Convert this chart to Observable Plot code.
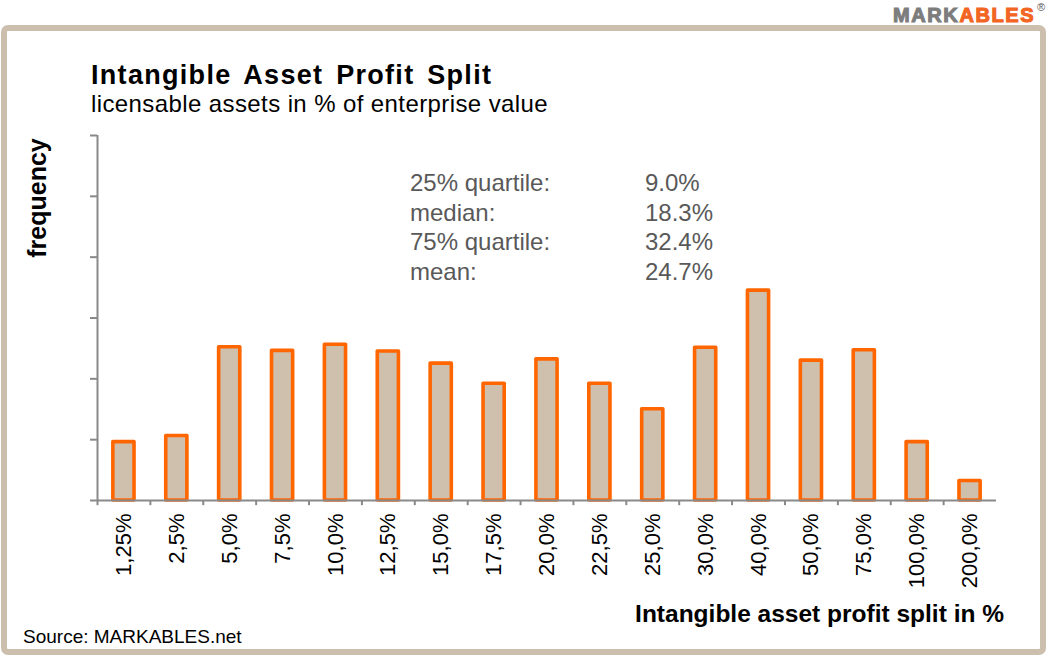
<!DOCTYPE html>
<html>
<head>
<meta charset="utf-8">
<script src="https://cdn.jsdelivr.net/npm/d3@7"></script>
<script src="https://cdn.jsdelivr.net/npm/@observablehq/plot@0.6"></script>
<style>
  html, body { margin: 0; padding: 0; background: #ffffff; }
  #wrap { position: relative; width: 1048px; height: 658px; overflow: hidden; background: #ffffff; font-family: "Liberation Sans", Arial, sans-serif; }
  #wrap > svg { position: absolute; left: 0; top: 0; }
</style>
</head>
<body>
<div id="wrap"></div>
<script>
// ---- data ----
const categories = ["1,25%","2,5%","5,0%","7,5%","10,0%","12,5%","15,0%","17,5%","20,0%","22,5%","25,0%","30,0%","40,0%","50,0%","75,0%","100,0%","200,0%"];
const frequency = [9.6, 10.6, 25.2, 24.6, 25.6, 24.5, 22.5, 19.2, 23.2, 19.2, 15.0, 25.1, 34.5, 23.0, 24.7, 9.6, 3.2];
const yTicks = [0, 10, 20, 30, 40, 50, 60];
const statLabels = ["25% quartile:", "median:", "75% quartile:", "mean:"];
const statValues = ["9.0%", "18.3%", "32.4%", "24.7%"];
const titleText = "Intangible Asset Profit Split";
const subtitleText = "licensable assets in % of enterprise value";
const yLabelText = "frequency";
const xLabelText = "Intangible asset profit split in %";
const sourceText = "Source: MARKABLES.net";

const data = categories.map((c, i) => ({cat: c, freq: frequency[i]}));

const W = 1048, H = 658;
const mL = 97, mR = 52, mT = 135, mB = 158;
const step = (W - mL - mR) / categories.length;
const axisGrey = "#898989";
const orange = "#ff6600";
const beige = "#cfbfad";
const font = "'Liberation Sans', Arial, sans-serif";

const chart = Plot.plot({
  width: W, height: H,
  marginLeft: mL, marginRight: mR, marginTop: mT, marginBottom: mB,
  style: {fontFamily: font, background: "transparent"},
  x: {domain: categories, paddingInner: 0.6, paddingOuter: 0.3, round: false, axis: null},
  y: {domain: [0, 60], axis: null},
  marks: [
    Plot.barY(data, {x: "cat", y: "freq", fill: beige, stroke: orange, strokeWidth: 3.6, strokeLinejoin: "round"}),
    Plot.axisY(yTicks, {tickSize: 7, tickFormat: () => "", stroke: axisGrey, strokeWidth: 2, label: null}),
    Plot.ruleX([categories[0]], {x: d => d, y1: 0, y2: 60, dx: -step / 2, stroke: axisGrey, strokeWidth: 2}),
    Plot.ruleY([0], {stroke: axisGrey, strokeWidth: 2}),
    Plot.ruleX(categories, {x: d => d, y1: 0, y2: -0.85, dx: -step / 2, stroke: axisGrey, strokeWidth: 2}),
    Plot.text(categories, {x: d => d, y: 0, dy: 13, rotate: -90, textAnchor: "end", fontSize: 22, fill: "#000", fontFamily: font})
  ]
});
document.getElementById("wrap").appendChild(chart);

// ---- overlay: frame, logo, titles, stats ----
const ov = d3.select("#wrap").append("svg")
  .attr("width", W).attr("height", H)
  .style("font-family", font)
  .style("pointer-events", "none");

// frame
ov.append("rect").attr("x", 4).attr("y", 28).attr("width", 1039).attr("height", 624)
  .attr("rx", 4).attr("fill", "none").attr("stroke", "#cdbfae").attr("stroke-width", 6);

// logo
const logo = ov.append("text").attr("x", 893).attr("y", 22)
  .attr("font-size", 20).attr("font-weight", 900).attr("letter-spacing", 1.6)
  .attr("stroke-width", 1.1).style("paint-order", "stroke");
logo.append("tspan").attr("fill", "#7d7d7d").attr("stroke", "#7d7d7d").text("MARK");
logo.append("tspan").attr("fill", "#f26522").attr("stroke", "#f26522").text("ABLES");
ov.append("text").attr("x", 1037).attr("y", 11).attr("font-size", 11).attr("fill", "#555").text("®");

// title + subtitle
ov.append("text").attr("x", 91).attr("y", 84).attr("font-size", 27).attr("font-weight", "bold")
  .attr("letter-spacing", 1.3).attr("word-spacing", 4).attr("fill", "#000").text(titleText);
ov.append("text").attr("x", 91).attr("y", 112).attr("font-size", 24).attr("letter-spacing", 0.4)
  .attr("fill", "#000").text(subtitleText);

// y label
ov.append("text").attr("transform", "translate(46,198) rotate(-90)").attr("text-anchor", "middle")
  .attr("font-size", 25).attr("font-weight", "bold").attr("fill", "#000").text(yLabelText);

// stats
statLabels.forEach((s, i) => {
  const y = 191 + i * 29.7;
  ov.append("text").attr("x", 410).attr("y", y).attr("font-size", 24).attr("fill", "#595959").text(s);
  ov.append("text").attr("x", 645).attr("y", y).attr("font-size", 24).attr("fill", "#595959").text(statValues[i]);
});

// x label
ov.append("text").attr("x", 1004).attr("y", 622).attr("text-anchor", "end")
  .attr("font-size", 24.5).attr("font-weight", "bold").attr("fill", "#000").text(xLabelText);

// source
ov.append("text").attr("x", 23).attr("y", 643).attr("font-size", 19).attr("fill", "#000").text(sourceText);
</script>
</body>
</html>
